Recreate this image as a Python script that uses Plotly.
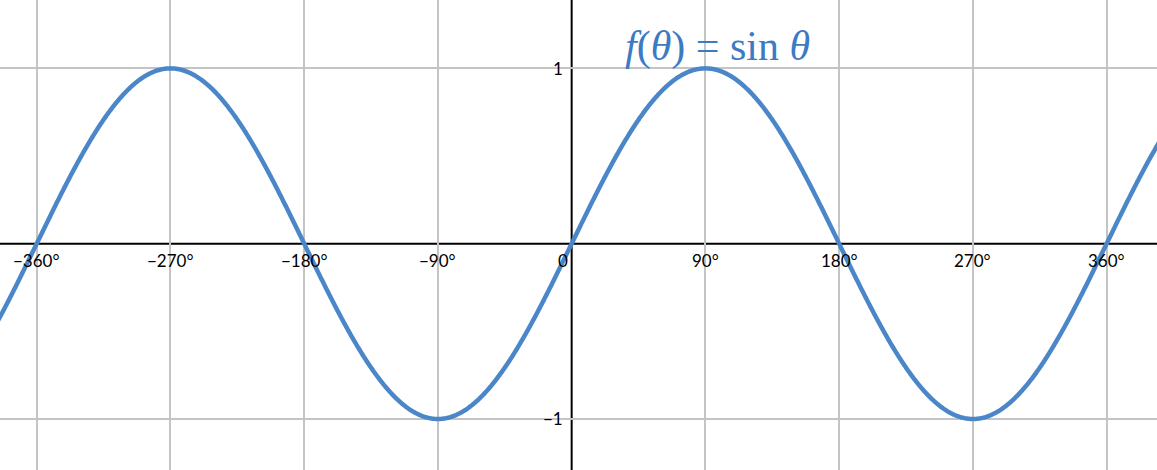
import numpy as np
import plotly.graph_objects as go

# x ticks in degrees, y ticks
x_ticks = [-360, -270, -180, -90, 0, 90, 180, 270, 360]
x_tick_labels = ["−360°", "−270°", "−180°", "−90°", "0", "90°", "180°", "270°", "360°"]
y_ticks = [-1, 1]
y_tick_labels = ["−1", "1"]

# the plotted function f(theta) = sin(theta), sampled over the visible window
theta = np.linspace(-390, 400, 1600)
f_theta = np.sin(np.radians(theta))

x_range = [-384.7, 393.9]
y_range = [-1.291, 1.390]

fig = go.Figure()

# black axes through the origin (drawn under the curve)
fig.add_hline(y=0, line=dict(color="black", width=2), layer="below")
fig.add_vline(x=0, line=dict(color="black", width=2), layer="below")

fig.add_trace(go.Scatter(
    x=theta, y=f_theta, mode="lines",
    line=dict(color="#4a86c8", width=4.5, simplify=False),
    hoverinfo="skip", showlegend=False
))

# tick labels next to the axes, desmos style
for xv, lab in zip(x_ticks, x_tick_labels):
    fig.add_annotation(
        x=xv, y=0, text=lab, showarrow=False,
        xanchor="right" if xv == 0 else "center", yanchor="top",
        xshift=-2 if xv == 0 else 0, yshift=-4,
        font=dict(family="Lato", size=17, color="black")
    )
for yv, lab in zip(y_ticks, y_tick_labels):
    fig.add_annotation(
        x=0, y=yv, text=lab, showarrow=False,
        xanchor="right", yanchor="middle", xshift=-7,
        font=dict(family="Lato", size=17, color="black")
    )

# function label
fig.add_annotation(
    x=98, y=1.122, text="<i>f</i>(<i>θ</i>) = sin <i>θ</i>", showarrow=False,
    xanchor="center", yanchor="middle",
    font=dict(family="Liberation Serif", size=42, color="#3d7ac4")
)

# grid everywhere except on the axes themselves
fig.update_xaxes(
    range=x_range, tickvals=[v for v in x_ticks if v != 0], showticklabels=False,
    showgrid=True, gridcolor="#c4c4c4", gridwidth=2,
    zeroline=False, showline=False
)
fig.update_yaxes(
    range=y_range, tickvals=y_ticks, showticklabels=False,
    showgrid=True, gridcolor="#c4c4c4", gridwidth=2,
    zeroline=False, showline=False
)

fig.update_layout(
    width=1157, height=470,
    margin=dict(l=0, r=0, t=0, b=0),
    plot_bgcolor="white", paper_bgcolor="white",
    showlegend=False
)

fig.write_html("out.html", config={"displayModeBar": False},
               post_script="document.body.style.margin='0';")
